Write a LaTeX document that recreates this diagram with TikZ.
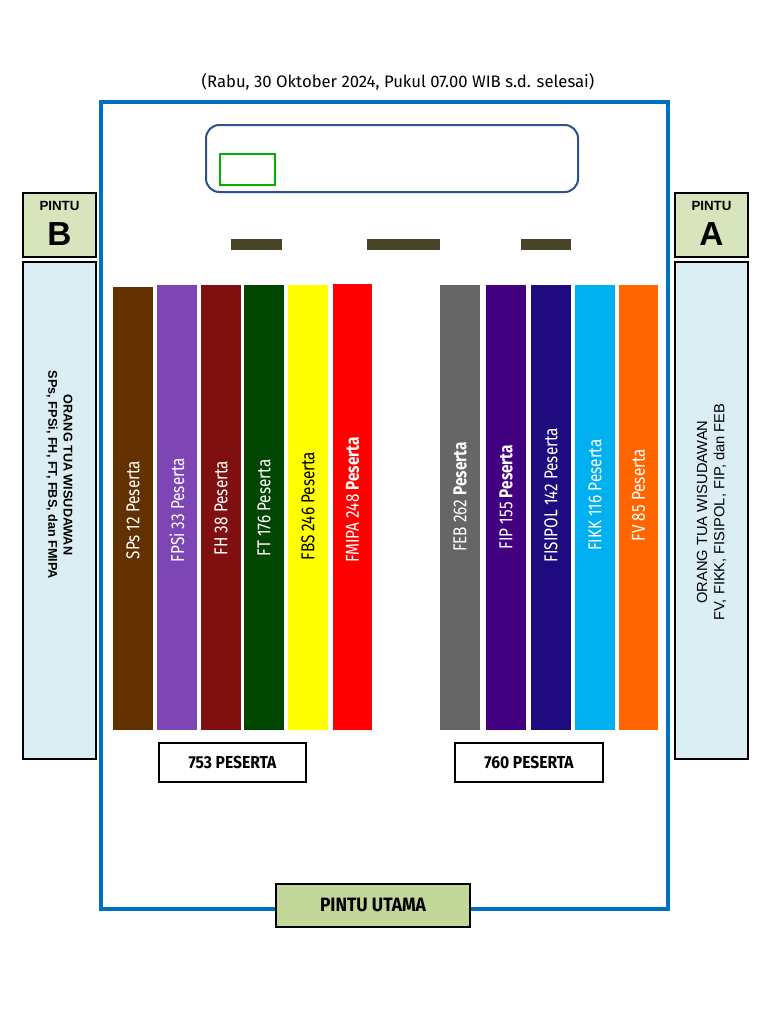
\documentclass[tikz,border=0pt]{standalone}
\usepackage{fontspec}
\setmainfont{Fira Sans}
\newfontfamily\arialf{Liberation Sans}
\begin{document}
\begin{tikzpicture}[x=0.75pt,y=-0.75pt]
\definecolor{frameblue}{RGB}{0,112,192}
\definecolor{stageblue}{RGB}{47,82,143}
\definecolor{pintug}{RGB}{216,228,188}
\definecolor{panelb}{RGB}{218,238,243}
\definecolor{dbar}{RGB}{73,69,41}
\definecolor{utama}{RGB}{196,215,155}
\tikzset{
 bartxt/.style={rotate=90,font=\fontsize{14}{16}\selectfont},
 box/.style={draw=black,line width=0.8pt},
}
\useasboundingbox (0,0) rectangle (768,1024);
\node (title) at (398,82) {\fontsize{12.5}{14}\selectfont (Rabu, 30 Oktober 2024, Pukul 07.00 WIB s.d. selesai)};
\draw[frameblue,line width=3.5pt] (101,102) rectangle (668,909);
\draw[stageblue,line width=1.5pt,rounded corners=10pt] (206,125) rectangle (578,192);
\draw[green!70!black,line width=1.5pt] (220,154) rectangle (275,185);
\foreach \a/\b in {231/282,367/440,521/571} \fill[dbar] (\a,239) rectangle (\b,250);
% pintu
\draw[box,fill=pintug] (23,193) rectangle (96,257);
\node[font=\arialf\bfseries\fontsize{10}{12}\selectfont] (pbt) at (59.5,206) {PINTU};
\node[font=\arialf\bfseries\fontsize{25}{27}\selectfont] (pb) at (59.5,234) {B};
\draw[box,fill=pintug] (675,193) rectangle (748,257);
\node[font=\arialf\bfseries\fontsize{10}{12}\selectfont] (pat) at (711.5,206) {PINTU};
\node[font=\arialf\bfseries\fontsize{25}{27}\selectfont] (pa) at (711.5,234) {A};
\draw[box,fill=panelb] (23,262) rectangle (96,759);
\node[rotate=-90,align=center,font=\arialf\bfseries\fontsize{9.5}{11.5}\selectfont] (lp) at (59.5,475) {ORANG TUA WISUDAWAN\\SPs, FPSi, FH, FT, FBS, dan FMIPA};
\draw[box,fill=panelb] (675,262) rectangle (748,759);
\node[rotate=90,align=center,font=\arialf\fontsize{11}{13}\selectfont] (rp) at (711.5,512) {ORANG TUA WISUDAWAN\\FV, FIKK, FISIPOL, FIP, dan FEB};
% bars
\foreach \xa/\xb/\ya/\r/\g/\bb/\txt/\tc/\yc in {
 113/153/287/99/48/0/{SPs 12 Peserta}/white/510,
 157/197/285/126/70/180/{FPSi 33 Peserta}/white/510,
 201/241/285/128/15/15/{FH 38 Peserta}/white/508,
 244/284/285/0/70/0/{FT 176 Peserta}/white/508,
 288/328/285/255/255/0/{FBS 246 Peserta}/black/506,
 333/372/284/255/0/0/{FMIPA 248 \textbf{Peserta}}/white/500,
 440/480/285/102/102/102/{FEB 262 \textbf{Peserta}}/white/497,
 486/526/285/64/0/128/{FIP 155 \textbf{Peserta}}/white/497,
 531/571/285/32/10/128/{FISIPOL 142 Peserta}/white/495,
 575/615/285/0/176/240/{FIKK 116 Peserta}/white/495,
 619/658/285/255/102/0/{FV 85 Peserta}/white/495}{
 \definecolor{bc}{RGB}{\r,\g,\bb}
 \fill[bc] (\xa,\ya) rectangle (\xb,730);
 \node[bartxt,text=\tc] at ({(\xa+\xb)/2},\yc) {\scalebox{0.82}[1]{\txt}};
}
\draw[box,fill=white] (159,743) rectangle (306,782);
\node[font=\bfseries\fontsize{13}{15}\selectfont] (l753) at (232.5,762) {\scalebox{0.9}[1]{753 PESERTA}};
\draw[box,fill=white] (455,743) rectangle (603,782);
\node[font=\bfseries\fontsize{13}{15}\selectfont] (l760) at (529,762) {\scalebox{0.9}[1]{760 PESERTA}};
\draw[box,fill=utama] (276,884) rectangle (470,927);
\node[font=\bfseries\fontsize{14.5}{16}\selectfont] (pu) at (373,905) {\scalebox{0.9}[1]{PINTU UTAMA}};
\end{tikzpicture}
\end{document}
